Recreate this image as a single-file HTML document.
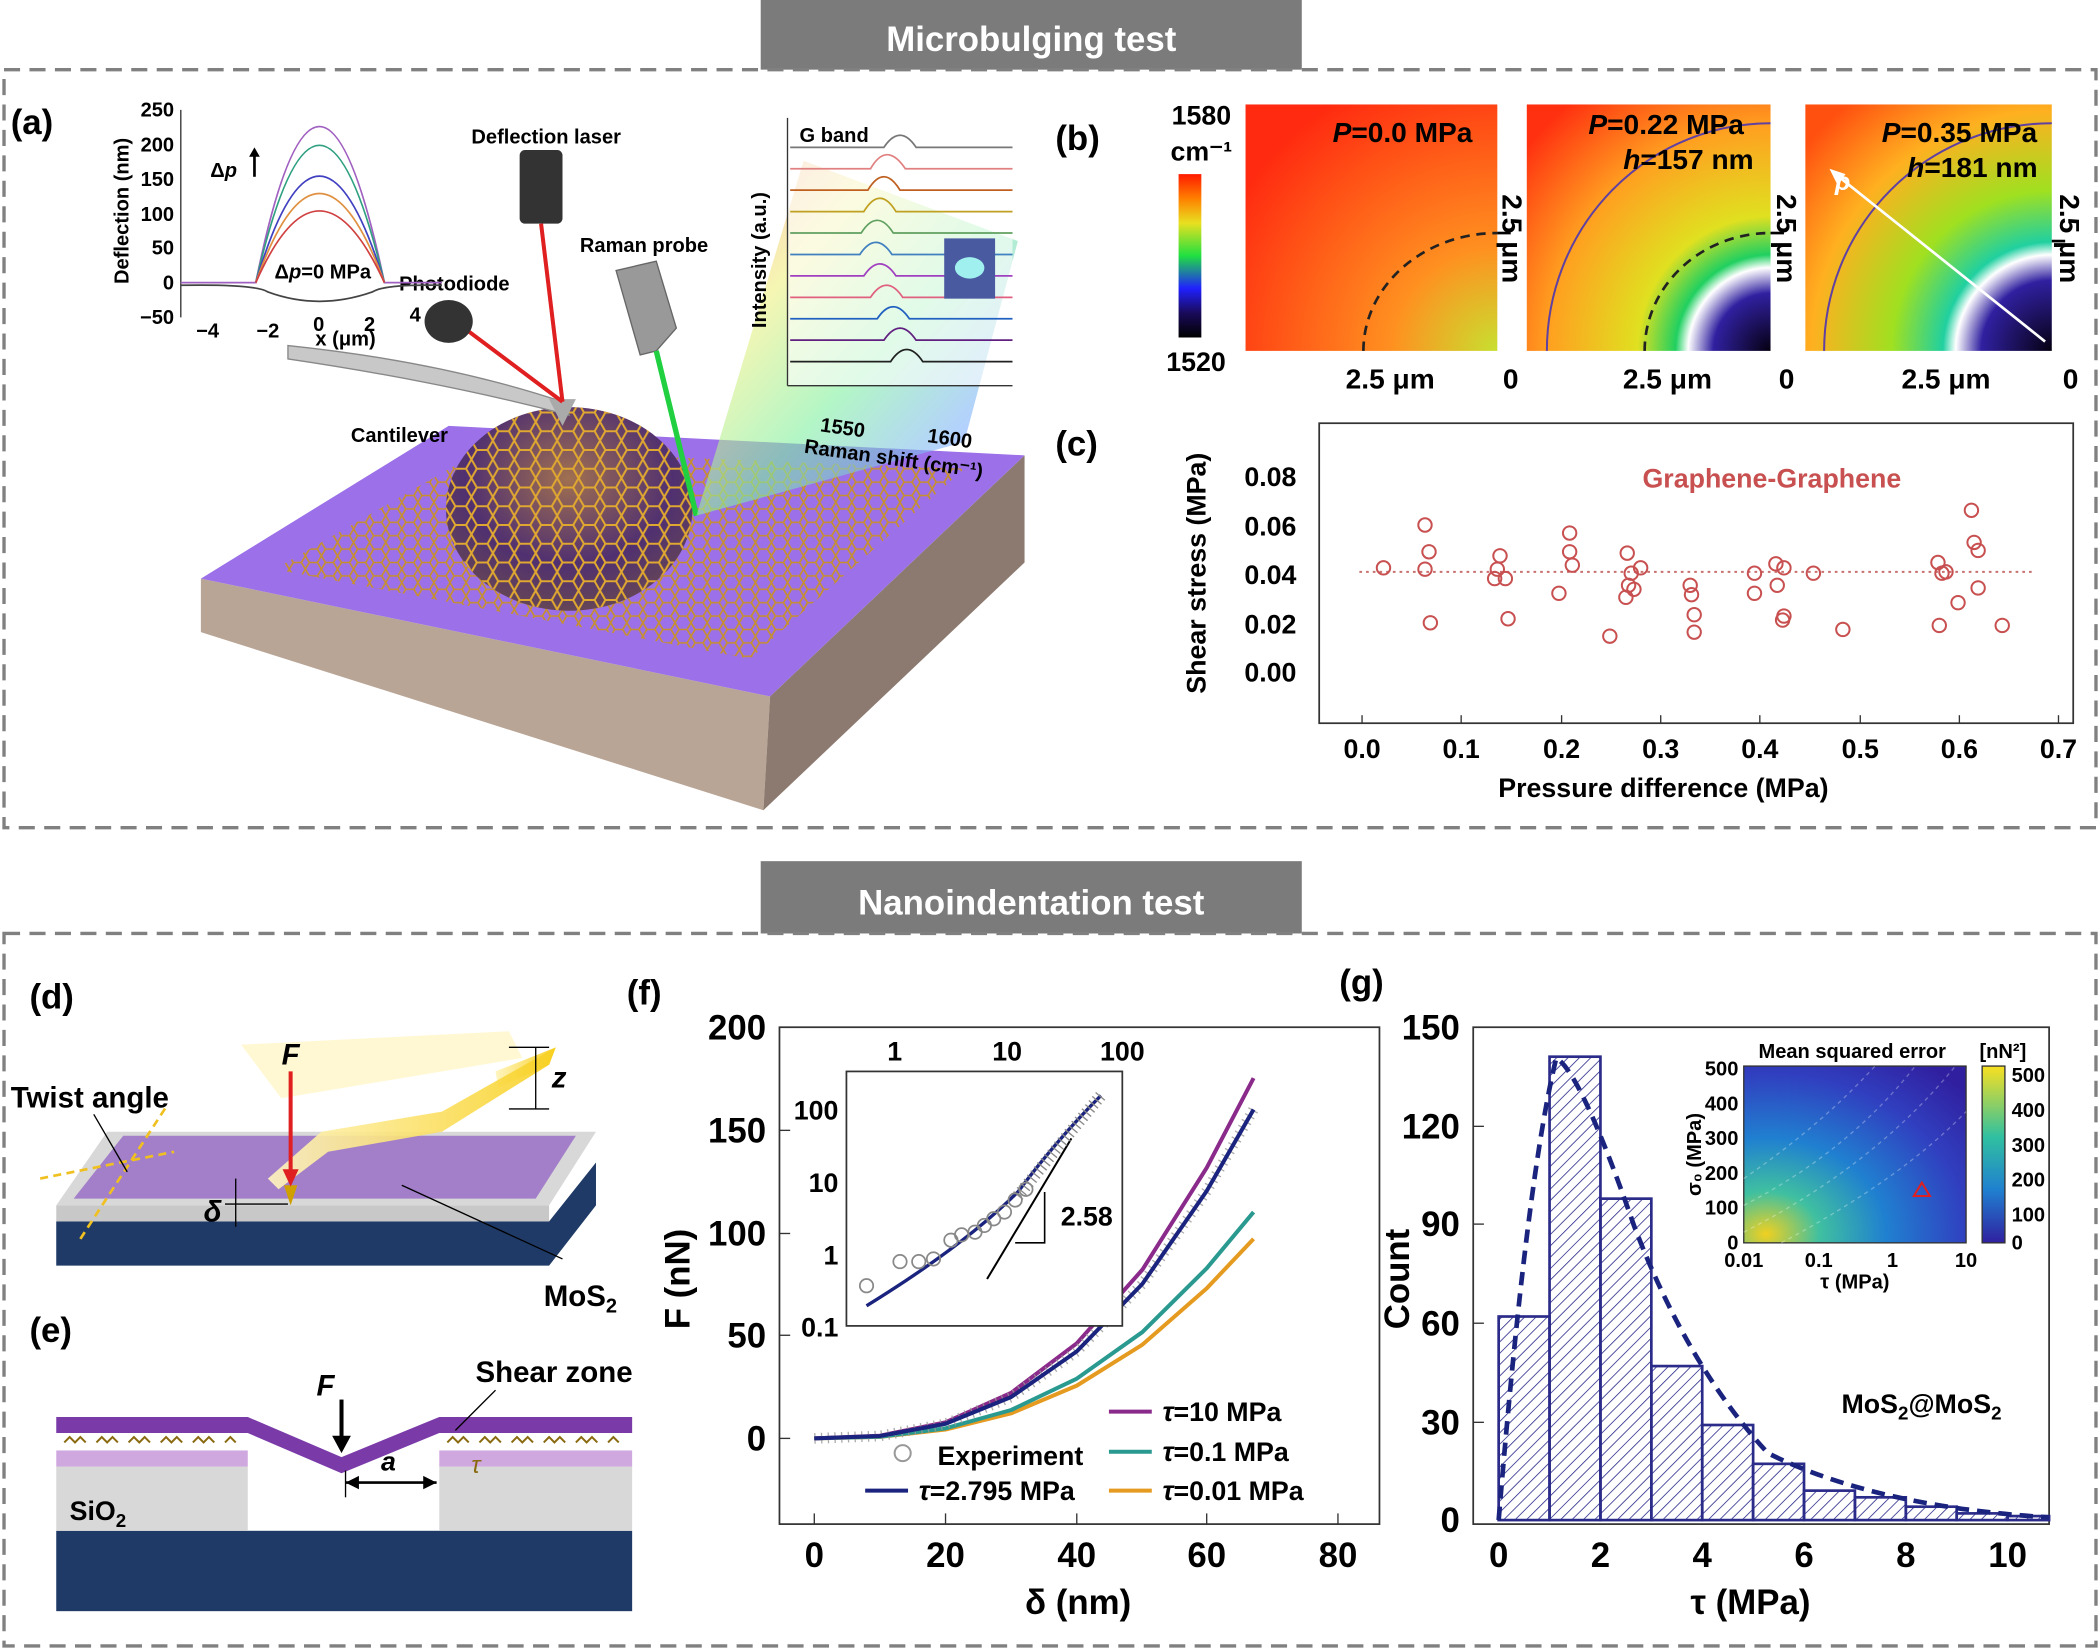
<!DOCTYPE html>
<html><head><meta charset="utf-8"><style>
html,body{margin:0;padding:0;background:#fff}
svg{display:block}
text{font-family:"Liberation Sans",Arial,sans-serif}
</style></head><body>
<svg width="2100" height="1650" viewBox="0 0 1568 1232" preserveAspectRatio="none" xmlns="http://www.w3.org/2000/svg">
<defs>
<linearGradient id="cb" x1="0" y1="1" x2="0" y2="0">
<stop offset="0" stop-color="#000"/><stop offset="0.15" stop-color="#1a0a5a"/><stop offset="0.3" stop-color="#2020ff"/><stop offset="0.5" stop-color="#20e040"/><stop offset="0.7" stop-color="#e8e020"/><stop offset="0.85" stop-color="#ff8000"/><stop offset="1" stop-color="#ff1a00"/></linearGradient>
<radialGradient id="h1" cx="1" cy="1" r="1.2"><stop offset="0" stop-color="#c8e030"/><stop offset="0.35" stop-color="#ff9020"/><stop offset="1" stop-color="#ff2a10"/></radialGradient>
<radialGradient id="h2" cx="1" cy="1" r="1.3"><stop offset="0" stop-color="#050010"/><stop offset="0.18" stop-color="#3020a0"/><stop offset="0.26" stop-color="#fff"/><stop offset="0.3" stop-color="#20d060"/><stop offset="0.42" stop-color="#e0e020"/><stop offset="0.7" stop-color="#ffa020"/><stop offset="1" stop-color="#ff3010"/></radialGradient>
<radialGradient id="h3" cx="1" cy="1" r="1.3"><stop offset="0" stop-color="#050010"/><stop offset="0.22" stop-color="#3020a0"/><stop offset="0.3" stop-color="#fff"/><stop offset="0.34" stop-color="#20d0a0"/><stop offset="0.5" stop-color="#a0e020"/><stop offset="0.75" stop-color="#ffb020"/><stop offset="1" stop-color="#ff5010"/></radialGradient>
<linearGradient id="rb" x1="0" y1="0" x2="1" y2="1"><stop offset="0" stop-color="#ff8080" stop-opacity=".6"/><stop offset="0.3" stop-color="#f0f080" stop-opacity=".6"/><stop offset="0.55" stop-color="#80f0a0" stop-opacity=".6"/><stop offset="0.8" stop-color="#80b0ff" stop-opacity=".6"/><stop offset="1" stop-color="#d080ff" stop-opacity=".6"/></linearGradient>
<radialGradient id="mse" cx="0.1" cy="0.95" r="1.2"><stop offset="0" stop-color="#f0d020"/><stop offset="0.2" stop-color="#40c0a0"/><stop offset="0.45" stop-color="#2080d0"/><stop offset="0.75" stop-color="#3040c0"/><stop offset="1" stop-color="#3020a0"/></radialGradient>
<linearGradient id="mcb" x1="0" y1="1" x2="0" y2="0"><stop offset="0" stop-color="#3020a0"/><stop offset=".3" stop-color="#2080d0"/><stop offset=".6" stop-color="#30c0a0"/><stop offset="1" stop-color="#f8e020"/></linearGradient>
<pattern id="hatch" width="6" height="6" patternUnits="userSpaceOnUse" patternTransform="rotate(45)"><line x1="0" y1="0" x2="0" y2="6" stroke="#2b2b8a" stroke-width="1.2"/></pattern>
<pattern id="hex" width="12" height="10" patternUnits="userSpaceOnUse"><path d="M0 5 L3 0 L9 0 L12 5 L9 10 L3 10 Z" fill="none" stroke="#c8902a" stroke-width="1.2"/></pattern>
<pattern id="hex2" width="16" height="14" patternUnits="userSpaceOnUse"><path d="M0 7 L4 0 L12 0 L16 7 L12 14 L4 14 Z" fill="none" stroke="#e0a830" stroke-width="1.5"/></pattern>
<radialGradient id="dome" cx="0.5" cy="0.35" r="0.7"><stop offset="0" stop-color="#a07050"/><stop offset="0.6" stop-color="#503070"/><stop offset="1" stop-color="#6a4a50"/></radialGradient>
<linearGradient id="beam" x1="0" y1="0" x2="1" y2="0"><stop offset="0" stop-color="#fff5c0"/><stop offset="1" stop-color="#f8d020"/></linearGradient>
</defs>

<!-- banners & frames -->
<rect x="568" y="0" width="404" height="52" fill="#7b7b7b"/>
<text x="770" y="38" font-size="26" font-weight="bold" fill="#fff" text-anchor="middle">Microbulging test</text>
<rect x="3" y="52" width="1562" height="566" fill="none" stroke="#808080" stroke-width="2.5" stroke-dasharray="12,7"/>
<rect x="568" y="643" width="404" height="54" fill="#7b7b7b"/>
<text x="770" y="683" font-size="26" font-weight="bold" fill="#fff" text-anchor="middle">Nanoindentation test</text>
<rect x="3" y="697" width="1562" height="532" fill="none" stroke="#808080" stroke-width="2.5" stroke-dasharray="12,7"/>

<!-- (a) -->
<text x="8" y="100" font-size="26" font-weight="bold">(a)</text>
<polygon points="150,432 150,472 570,605 575,520" fill="#b9a596"/>
<polygon points="575,520 570,605 765,420 765,340" fill="#8c7a70"/>
<polygon points="150,432 335,318 765,340 575,520" fill="#9b70e8"/>
<polygon points="205,425 360,336 720,350 560,492" fill="url(#hex)"/>
<ellipse cx="425" cy="380" rx="92" ry="76" fill="url(#dome)"/>
<ellipse cx="425" cy="380" rx="92" ry="76" fill="url(#hex2)"/>
<!-- cantilever -->
<path d="M215 258 Q330 270 420 300 L425 310 Q330 285 215 268 Z" fill="#c8c8c8" stroke="#888"/>
<polygon points="410,298 430,298 420,318" fill="#aaa"/>
<!-- laser -->
<rect x="388" y="112" width="32" height="55" rx="4" fill="#333"/>
<line x1="404" y1="167" x2="420" y2="300" stroke="#e02020" stroke-width="3"/>
<line x1="420" y1="300" x2="340" y2="240" stroke="#e02020" stroke-width="3"/>
<ellipse cx="335" cy="240" rx="18" ry="16" fill="#333"/>
<text x="352" y="107" font-size="15" font-weight="bold">Deflection laser</text>
<text x="298" y="217" font-size="15" font-weight="bold">Photodiode</text>
<text x="433" y="188" font-size="15" font-weight="bold">Raman probe</text>
<text x="262" y="330" font-size="15" font-weight="bold">Cantilever</text>
<!-- raman probe -->
<path d="M460 202 L490 195 L505 245 L490 262 L478 265 Z" fill="#999" stroke="#666"/>
<line x1="490" y1="262" x2="520" y2="385" stroke="#20d040" stroke-width="4"/>
<polygon points="520,385 600,120 760,180 720,330" fill="url(#rb)"/>
<!-- raman inset -->
<rect x="588" y="88" width="168" height="200" fill="#fff" fill-opacity=".6"/>
<g fill="none" stroke-width="1.3">
<path d="M590 110 L660 110 Q672 92 684 110 L756 110" stroke="#777"/>
<path d="M590 126 L650 126 Q662 105 676 126 L756 126" stroke="#e08080"/>
<path d="M590 142 L648 142 Q660 122 672 142 L756 142" stroke="#c06020"/>
<path d="M590 158 L645 158 Q657 138 669 158 L756 158" stroke="#c0a020"/>
<path d="M590 174 L643 174 Q655 155 667 174 L756 174" stroke="#60a060"/>
<path d="M590 190 L642 190 Q654 172 666 190 L756 190" stroke="#4080c0"/>
<path d="M590 206 L645 206 Q657 188 669 206 L756 206" stroke="#a040c0"/>
<path d="M590 222 L650 222 Q662 204 674 222 L756 222" stroke="#e06080"/>
<path d="M590 238 L655 238 Q667 220 679 238 L756 238" stroke="#2060c0"/>
<path d="M590 254 L660 254 Q672 236 684 254 L756 254" stroke="#602080"/>
<path d="M590 270 L665 270 Q677 252 689 270 L756 270" stroke="#202020"/>
</g>
<line x1="588" y1="88" x2="588" y2="288" stroke="#333"/>
<line x1="588" y1="288" x2="756" y2="288" stroke="#333"/>
<rect x="705" y="178" width="38" height="45" fill="#4a5aa0"/><ellipse cx="724" cy="200" rx="11" ry="8" fill="#a0f0f0"/>
<text x="597" y="106" font-size="15" font-weight="bold">G band</text>
<text x="612" y="322" font-size="15" font-weight="bold" transform="rotate(8 612 322)">1550</text>
<text x="692" y="330" font-size="15" font-weight="bold" transform="rotate(8 692 330)">1600</text>
<text x="600" y="338" font-size="15" font-weight="bold" transform="rotate(8 600 338)">Raman shift (cm⁻¹)</text>
<text x="572" y="245" font-size="15" font-weight="bold" transform="rotate(-90 572 245)">Intensity (a.u.)</text>
<!-- deflection inset -->
<g font-size="15" font-weight="bold">
<line x1="135" y1="82" x2="135" y2="237" stroke="#333"/>
<text x="130" y="87" text-anchor="end">250</text><text x="130" y="113" text-anchor="end">200</text>
<text x="130" y="139" text-anchor="end">150</text><text x="130" y="165" text-anchor="end">100</text>
<text x="130" y="190" text-anchor="end">50</text><text x="130" y="216" text-anchor="end">0</text>
<text x="130" y="242" text-anchor="end">−50</text>
<text x="155" y="252" text-anchor="middle">−4</text><text x="200" y="252" text-anchor="middle">−2</text>
<text x="238" y="247" text-anchor="middle">0</text><text x="276" y="247" text-anchor="middle">2</text>
<text x="310" y="240" text-anchor="middle">4</text>
<text x="258" y="258" text-anchor="middle">x (μm)</text>
<text x="96" y="212" transform="rotate(-90 96 212)">Deflection (nm)</text>
<text x="157" y="132">Δ<tspan font-style="italic">p</tspan></text>
<text x="205" y="208">Δ<tspan font-style="italic">p</tspan>=0 MPa</text>
</g>
<line x1="190" y1="132" x2="190" y2="115" stroke="#000" stroke-width="2"/><polygon points="186,117 194,117 190,110"/>
<g fill="none" stroke-width="1.3">
<path d="M135 211 L191 211 Q238 -22 287 211 L330 211" stroke="#a060c0"/>
<path d="M191 211 Q238 6 287 211" stroke="#30a080"/>
<path d="M191 211 Q238 52 287 211" stroke="#4040c0"/>
<path d="M191 211 Q238 78 287 211" stroke="#e09040"/>
<path d="M191 211 Q238 104 287 211" stroke="#d04040"/>
<path d="M135 213 Q191 212 200 218 Q238 232 278 218 Q287 212 330 213" stroke="#444"/>
</g>

<!-- (b) -->
<text x="788" y="112" font-size="26" font-weight="bold">(b)</text>
<text x="897" y="93" font-size="20" font-weight="bold" text-anchor="middle">1580</text>
<text x="897" y="120" font-size="20" font-weight="bold" text-anchor="middle">cm⁻¹</text>
<rect x="880" y="130" width="17" height="122" fill="url(#cb)"/>
<text x="893" y="277" font-size="20" font-weight="bold" text-anchor="middle">1520</text>
<rect x="930" y="78" width="188" height="184" fill="url(#h1)"/>
<rect x="1140" y="78" width="182" height="184" fill="url(#h2)"/>
<rect x="1348" y="78" width="184" height="184" fill="url(#h3)"/>
<path d="M1018 262 A100 88 0 0 1 1118 174" fill="none" stroke="#222" stroke-width="2" stroke-dasharray="7,5"/>
<path d="M1228 262 A94 88 0 0 1 1322 174" fill="none" stroke="#222" stroke-width="2" stroke-dasharray="7,5"/>
<path d="M1155 262 A167 170 0 0 1 1322 92" fill="none" stroke="#6040a0" stroke-width="1.5"/>
<path d="M1362 262 A170 170 0 0 1 1532 92" fill="none" stroke="#6040a0" stroke-width="1.5"/>
<line x1="1368" y1="128" x2="1527" y2="255" stroke="#fff" stroke-width="2"/>
<polygon points="1366,126 1378,130 1372,138" fill="#fff"/>
<text x="1370" y="142" font-size="19" font-weight="bold" font-style="italic" fill="#fff">ρ</text>
<g font-size="21" font-weight="bold">
<text x="995" y="106"><tspan font-style="italic">P</tspan>=0.0 MPa</text>
<text x="1186" y="100"><tspan font-style="italic">P</tspan>=0.22 MPa</text>
<text x="1212" y="126"><tspan font-style="italic">h</tspan>=157 nm</text>
<text x="1405" y="106"><tspan font-style="italic">P</tspan>=0.35 MPa</text>
<text x="1424" y="132"><tspan font-style="italic">h</tspan>=181 nm</text>
<text x="1038" y="290" text-anchor="middle">2.5 μm</text><text x="1128" y="290" text-anchor="middle">0</text>
<text x="1245" y="290" text-anchor="middle">2.5 μm</text><text x="1334" y="290" text-anchor="middle">0</text>
<text x="1453" y="290" text-anchor="middle">2.5 μm</text><text x="1546" y="290" text-anchor="middle">0</text>
<text x="1122" y="145" transform="rotate(90 1122 145)">2.5 μm</text>
<text x="1327" y="145" transform="rotate(90 1327 145)">2.5 μm</text>
<text x="1538" y="145" transform="rotate(90 1538 145)">2.5 μm</text>
</g>
<line x1="1118" y1="174" x2="1128" y2="174" stroke="#000" stroke-width="2"/>
<line x1="1322" y1="174" x2="1332" y2="174" stroke="#000" stroke-width="2"/>
<line x1="1532" y1="180" x2="1542" y2="180" stroke="#000" stroke-width="2"/>

<!-- (c) -->
<text x="788" y="340" font-size="26" font-weight="bold">(c)</text>
<rect x="985" y="316" width="563" height="224" fill="none" stroke="#333" stroke-width="1.3"/>
<g font-size="20" font-weight="bold">
<text x="968" y="363" text-anchor="end">0.08</text><text x="968" y="400" text-anchor="end">0.06</text>
<text x="968" y="436" text-anchor="end">0.04</text><text x="968" y="473" text-anchor="end">0.02</text>
<text x="968" y="509" text-anchor="end">0.00</text>
<text x="1017" y="566" text-anchor="middle">0.0</text><text x="1091" y="566" text-anchor="middle">0.1</text>
<text x="1166" y="566" text-anchor="middle">0.2</text><text x="1240" y="566" text-anchor="middle">0.3</text>
<text x="1314" y="566" text-anchor="middle">0.4</text><text x="1389" y="566" text-anchor="middle">0.5</text>
<text x="1463" y="566" text-anchor="middle">0.6</text><text x="1537" y="566" text-anchor="middle">0.7</text>
<text x="1242" y="595" text-anchor="middle">Pressure difference (MPa)</text>
<text x="900" y="428" text-anchor="middle" transform="rotate(-90 900 428)">Shear stress (MPa)</text>
<text x="1323" y="364" text-anchor="middle" fill="#c85050">Graphene-Graphene</text>
</g>
<g stroke="#333"><line x1="1017" y1="540" x2="1017" y2="534"/><line x1="1091" y1="540" x2="1091" y2="534"/><line x1="1166" y1="540" x2="1166" y2="534"/><line x1="1240" y1="540" x2="1240" y2="534"/><line x1="1314" y1="540" x2="1314" y2="534"/><line x1="1389" y1="540" x2="1389" y2="534"/><line x1="1463" y1="540" x2="1463" y2="534"/><line x1="1537" y1="540" x2="1537" y2="534"/></g>
<line x1="1015" y1="427" x2="1520" y2="427" stroke="#c87070" stroke-width="1.5" stroke-dasharray="2,3"/>
<g fill="none" stroke="#c85050" stroke-width="1.5">
<circle cx="1033" cy="424" r="5"/><circle cx="1064" cy="392" r="5"/><circle cx="1067" cy="412" r="5"/><circle cx="1064" cy="425" r="5"/><circle cx="1068" cy="465" r="5"/>
<circle cx="1120" cy="415" r="5"/><circle cx="1118" cy="425" r="5"/><circle cx="1124" cy="432" r="5"/><circle cx="1126" cy="462" r="5"/><circle cx="1116" cy="432" r="5"/>
<circle cx="1172" cy="398" r="5"/><circle cx="1172" cy="412" r="5"/><circle cx="1174" cy="422" r="5"/><circle cx="1164" cy="443" r="5"/>
<circle cx="1215" cy="413" r="5"/><circle cx="1218" cy="428" r="5"/><circle cx="1216" cy="437" r="5"/><circle cx="1220" cy="440" r="5"/><circle cx="1214" cy="446" r="5"/><circle cx="1202" cy="475" r="5"/><circle cx="1225" cy="424" r="5"/>
<circle cx="1262" cy="437" r="5"/><circle cx="1263" cy="444" r="5"/><circle cx="1265" cy="459" r="5"/><circle cx="1265" cy="472" r="5"/>
<circle cx="1310" cy="428" r="5"/><circle cx="1310" cy="443" r="5"/><circle cx="1326" cy="421" r="5"/><circle cx="1327" cy="437" r="5"/><circle cx="1332" cy="424" r="5"/><circle cx="1332" cy="460" r="5"/><circle cx="1331" cy="463" r="5"/>
<circle cx="1354" cy="428" r="5"/><circle cx="1376" cy="470" r="5"/>
<circle cx="1447" cy="420" r="5"/><circle cx="1450" cy="428" r="5"/><circle cx="1453" cy="427" r="5"/><circle cx="1448" cy="467" r="5"/><circle cx="1462" cy="450" r="5"/>
<circle cx="1472" cy="381" r="5"/><circle cx="1474" cy="405" r="5"/><circle cx="1477" cy="411" r="5"/><circle cx="1477" cy="439" r="5"/><circle cx="1495" cy="467" r="5"/>
</g>

<!-- (d) -->
<text x="22" y="753" font-size="26" font-weight="bold">(d)</text>
<polygon points="42,912 42,945 410,945 445,900 445,868 410,912" fill="#1f3a66"/>
<polygon points="42,900 80,845 445,845 410,900" fill="#d8d8d8"/>
<polygon points="42,900 410,900 410,912 42,912" fill="#c8c8c8"/>
<polygon points="55,895 92,848 430,848 400,895" fill="#9a70c8" opacity=".85"/>
<polygon points="370,800 415,782 410,795 372,812" fill="url(#beam)"/>
<path d="M200 880 L240 845 L330 830 L415 782 L410 795 L330 845 L245 860 L208 888 Z" fill="url(#beam)" opacity=".9"/>
<path d="M180 780 L380 770 L390 790 L210 820 Z" fill="#fff5c0" opacity=".7"/>
<polygon points="212,885 222,885 217,900" fill="#d0a000"/>
<line x1="217" y1="800" x2="217" y2="878" stroke="#e02020" stroke-width="3"/>
<polygon points="211,873 223,873 217,886" fill="#e02020"/>
<text x="217" y="795" font-size="22" font-weight="bold" font-style="italic" text-anchor="middle">F</text>
<text x="8" y="827" font-size="22" font-weight="bold">Twist angle</text>
<line x1="60" y1="925" x2="125" y2="825" stroke="#f0c020" stroke-width="2" stroke-dasharray="6,4"/>
<line x1="30" y1="880" x2="130" y2="860" stroke="#f0c020" stroke-width="2" stroke-dasharray="6,4"/>
<line x1="70" y1="832" x2="95" y2="875" stroke="#000"/>
<text x="152" y="912" font-size="22" font-weight="bold" font-style="italic">δ</text>
<line x1="176" y1="880" x2="176" y2="916" stroke="#000"/>
<line x1="168" y1="899" x2="215" y2="899" stroke="#000"/>
<line x1="380" y1="782" x2="410" y2="782" stroke="#000"/><line x1="380" y1="828" x2="410" y2="828" stroke="#000"/>
<line x1="400" y1="782" x2="400" y2="828" stroke="#000"/>
<text x="412" y="812" font-size="22" font-weight="bold" font-style="italic">z</text>
<line x1="300" y1="885" x2="420" y2="940" stroke="#000"/>
<text x="406" y="975" font-size="22" font-weight="bold">MoS<tspan font-size="15" dy="5">2</tspan></text>

<!-- (e) -->
<text x="22" y="1002" font-size="26" font-weight="bold">(e)</text>
<rect x="42" y="1143" width="430" height="60" fill="#1f3a66"/>
<rect x="42" y="1095" width="143" height="48" fill="#d8d8d8"/>
<rect x="328" y="1095" width="144" height="48" fill="#d8d8d8"/>
<rect x="42" y="1083" width="143" height="12" fill="#d0a8e0"/>
<rect x="328" y="1083" width="144" height="12" fill="#d0a8e0"/>
<path d="M42 1058 L185 1058 L255 1088 L328 1058 L472 1058 L472 1070 L328 1070 L255 1100 L185 1070 L42 1070 Z" fill="#7a3aa8"/>
<g stroke="#8a6a10" stroke-width="1.5" fill="none">
<path d="M48 1077 l4 -4 l4 4 l4 -4 l4 4 M72 1077 l4 -4 l4 4 l4 -4 l4 4 M96 1077 l4 -4 l4 4 l4 -4 l4 4 M120 1077 l4 -4 l4 4 l4 -4 l4 4 M144 1077 l4 -4 l4 4 l4 -4 l4 4 M168 1077 l4 -4 l4 4"/>
<path d="M334 1077 l4 -4 l4 4 l4 -4 l4 4 M358 1077 l4 -4 l4 4 l4 -4 l4 4 M382 1077 l4 -4 l4 4 l4 -4 l4 4 M406 1077 l4 -4 l4 4 l4 -4 l4 4 M430 1077 l4 -4 l4 4 l4 -4 l4 4 M454 1077 l4 -4 l4 4"/>
</g>
<line x1="255" y1="1045" x2="255" y2="1075" stroke="#000" stroke-width="3"/>
<polygon points="248,1072 262,1072 255,1085"/>
<text x="243" y="1042" font-size="22" font-weight="bold" font-style="italic" text-anchor="middle">F</text>
<line x1="258" y1="1107" x2="326" y2="1107" stroke="#000" stroke-width="2"/>
<polygon points="258,1107 268,1102 268,1112"/><polygon points="326,1107 316,1102 316,1112"/>
<line x1="258" y1="1098" x2="258" y2="1118" stroke="#000"/>
<text x="290" y="1098" font-size="20" font-weight="bold" font-style="italic" text-anchor="middle">a</text>
<text x="352" y="1100" font-size="18" font-style="italic" fill="#8a6a10">τ</text>
<text x="355" y="1032" font-size="22" font-weight="bold">Shear zone</text>
<line x1="370" y1="1038" x2="340" y2="1068" stroke="#000"/>
<text x="52" y="1135" font-size="20" font-weight="bold">SiO<tspan font-size="14" dy="5">2</tspan></text>

<!-- (f) -->
<text x="468" y="750" font-size="26" font-weight="bold">(f)</text>
<rect x="582" y="767" width="448" height="371" fill="none" stroke="#333" stroke-width="1.3"/>
<g font-size="26" font-weight="bold">
<text x="572" y="776" text-anchor="end">200</text><text x="572" y="853" text-anchor="end">150</text>
<text x="572" y="930" text-anchor="end">100</text><text x="572" y="1006" text-anchor="end">50</text>
<text x="572" y="1083" text-anchor="end">0</text>
<text x="608" y="1170" text-anchor="middle">0</text><text x="706" y="1170" text-anchor="middle">20</text>
<text x="804" y="1170" text-anchor="middle">40</text><text x="901" y="1170" text-anchor="middle">60</text>
<text x="999" y="1170" text-anchor="middle">80</text>
<text x="805" y="1205" text-anchor="middle">δ (nm)</text>
<text x="515" y="955" text-anchor="middle" transform="rotate(-90 515 955)">F (nN)</text>
</g>
<g stroke="#333"><line x1="582" y1="767" x2="590" y2="767"/><line x1="582" y1="844" x2="590" y2="844"/><line x1="582" y1="921" x2="590" y2="921"/><line x1="582" y1="997" x2="590" y2="997"/><line x1="582" y1="1074" x2="590" y2="1074"/>
<line x1="608" y1="1138" x2="608" y2="1130"/><line x1="706" y1="1138" x2="706" y2="1130"/><line x1="804" y1="1138" x2="804" y2="1130"/><line x1="901" y1="1138" x2="901" y2="1130"/><line x1="999" y1="1138" x2="999" y2="1130"/></g>
<g fill="none" stroke-width="3" stroke-linejoin="round">
<polyline points="608,1074 657,1072.9 706,1067.4 755,1055.3 804,1034.6 853,1004 901,962 936,925" stroke="#e59a20"/>
<polyline points="608,1074 657,1072.8 706,1066.5 755,1052.8 804,1029.4 853,994.6 901,947 936,905" stroke="#2a9a90"/>
<polyline points="608,1074 657,1072 706,1062 755,1040 804,1003 853,948 901,872 936,805" stroke="#8a2a8a"/>
<polyline points="608,1074 657,1072.2 706,1063.1 755,1043.1 804,1009 853,958.6 901,889.3 936,828.4" stroke="#999" stroke-width="8" stroke-dasharray="1,4" opacity=".8"/>
<polyline points="608,1074 657,1072.2 706,1063.1 755,1043.1 804,1009 853,958.6 901,889.3 936,828.4" stroke="#1a237e"/>
</g>
<g font-size="20" font-weight="bold">
<line x1="828" y1="1054" x2="860" y2="1054" stroke="#8a2a8a" stroke-width="3"/><text x="868" y="1061" font-style="italic">τ<tspan font-style="normal">=10 MPa</tspan></text>
<line x1="828" y1="1084" x2="860" y2="1084" stroke="#2a9a90" stroke-width="3"/><text x="868" y="1091" font-style="italic">τ<tspan font-style="normal">=0.1 MPa</tspan></text>
<line x1="828" y1="1113" x2="860" y2="1113" stroke="#e59a20" stroke-width="3"/><text x="868" y="1120" font-style="italic">τ<tspan font-style="normal">=0.01 MPa</tspan></text>
<circle cx="674" cy="1085" r="6" fill="none" stroke="#999" stroke-width="1.5"/><text x="700" y="1094">Experiment</text>
<line x1="646" y1="1113" x2="678" y2="1113" stroke="#1a237e" stroke-width="3"/><text x="686" y="1120" font-style="italic">τ<tspan font-style="normal">=2.795 MPa</tspan></text>
</g>
<!-- f inset -->
<rect x="632" y="800" width="206" height="190" fill="#fff" stroke="#333" stroke-width="1.3"/>
<g font-size="20" font-weight="bold">
<text x="668" y="792" text-anchor="middle">1</text><text x="752" y="792" text-anchor="middle">10</text><text x="838" y="792" text-anchor="middle">100</text>
<text x="626" y="836" text-anchor="end">100</text><text x="626" y="890" text-anchor="end">10</text>
<text x="626" y="944" text-anchor="end">1</text><text x="626" y="998" text-anchor="end">0.1</text>
<text x="792" y="915">2.58</text>
</g>
<path d="M647 975 Q720 930 760 890 Q790 850 822 818" fill="none" stroke="#1a237e" stroke-width="2.5"/>
<path d="M737 955 L800 850" stroke="#000" stroke-width="1.5"/>
<path d="M758 928 L780 928 L780 890" fill="none" stroke="#000" stroke-width="1.2"/>
<g fill="none" stroke="#888" stroke-width="1.3">
<circle cx="647" cy="960" r="5"/><circle cx="672" cy="942" r="5"/><circle cx="686" cy="942" r="5"/><circle cx="697" cy="940" r="5"/><circle cx="710" cy="926" r="5"/><circle cx="718" cy="922" r="5"/><circle cx="728" cy="920" r="5"/><circle cx="735" cy="915" r="5"/><circle cx="742" cy="910" r="5"/><circle cx="750" cy="905" r="5"/><circle cx="758" cy="896" r="5"/><circle cx="766" cy="888" r="5"/>
</g>
<path d="M760 893 Q795 850 822 818" fill="none" stroke="#888" stroke-width="9" stroke-dasharray="1,3"/>

<!-- (g) -->
<text x="1000" y="742" font-size="26" font-weight="bold">(g)</text>
<rect x="1100" y="767" width="430" height="371" fill="none" stroke="#333" stroke-width="1.3"/>
<g stroke="#2b2b8a" stroke-width="2" fill="url(#hatch)">
<rect x="1119" y="983" width="38" height="152"/>
<rect x="1157" y="789" width="38" height="346"/>
<rect x="1195" y="895" width="38" height="240"/>
<rect x="1233" y="1020" width="38" height="115"/>
<rect x="1271" y="1064" width="38" height="71"/>
<rect x="1309" y="1093" width="38" height="42"/>
<rect x="1347" y="1113" width="38" height="22"/>
<rect x="1385" y="1118" width="38" height="17"/>
<rect x="1423" y="1125" width="38" height="10"/>
<rect x="1461" y="1130" width="38" height="5"/>
<rect x="1499" y="1132" width="31" height="3"/>
</g>
<path d="M1119 1135 Q1140 880 1162 790 Q1180 800 1220 915 Q1260 1020 1320 1085 Q1400 1125 1530 1133" fill="none" stroke="#1a237e" stroke-width="3.5" stroke-dasharray="10,6"/>
<g stroke="#333"><line x1="1100" y1="767" x2="1108" y2="767"/><line x1="1100" y1="841" x2="1108" y2="841"/><line x1="1100" y1="914" x2="1108" y2="914"/><line x1="1100" y1="988" x2="1108" y2="988"/><line x1="1100" y1="1062" x2="1108" y2="1062"/></g>
<g font-size="26" font-weight="bold">
<text x="1090" y="776" text-anchor="end">150</text><text x="1090" y="850" text-anchor="end">120</text>
<text x="1090" y="923" text-anchor="end">90</text><text x="1090" y="997" text-anchor="end">60</text>
<text x="1090" y="1071" text-anchor="end">30</text><text x="1090" y="1144" text-anchor="end">0</text>
<text x="1119" y="1170" text-anchor="middle">0</text><text x="1195" y="1170" text-anchor="middle">2</text>
<text x="1271" y="1170" text-anchor="middle">4</text><text x="1347" y="1170" text-anchor="middle">6</text>
<text x="1423" y="1170" text-anchor="middle">8</text><text x="1499" y="1170" text-anchor="middle">10</text>
<text x="1307" y="1205" text-anchor="middle">τ (MPa)</text>
<text x="1052" y="955" text-anchor="middle" transform="rotate(-90 1052 955)">Count</text>
</g>
<text x="1375" y="1055" font-size="20" font-weight="bold">MoS<tspan font-size="14" dy="5">2</tspan><tspan dy="-5">@MoS</tspan><tspan font-size="14" dy="5">2</tspan></text>
<rect x="1302" y="796" width="166" height="132" fill="url(#mse)" stroke="#333"/>
<path d="M1302 880 Q1360 840 1400 796 M1302 900 Q1380 860 1430 796 M1302 920 Q1400 870 1460 796 M1330 928 Q1420 880 1468 830" fill="none" stroke="#fff" stroke-opacity=".3" stroke-dasharray="3,3"/>
<polygon points="1435,883 1441,893 1429,893" fill="none" stroke="#e02020" stroke-width="1.5"/>
<rect x="1480" y="796" width="17" height="132" fill="url(#mcb)" stroke="#333"/>
<g font-size="15" font-weight="bold">
<text x="1383" y="790" text-anchor="middle">Mean squared error</text>
<text x="1478" y="790">[nN²]</text>
<text x="1298" y="803" text-anchor="end">500</text><text x="1298" y="829" text-anchor="end">400</text>
<text x="1298" y="855" text-anchor="end">300</text><text x="1298" y="881" text-anchor="end">200</text>
<text x="1298" y="907" text-anchor="end">100</text><text x="1298" y="933" text-anchor="end">0</text>
<text x="1302" y="946" text-anchor="middle">0.01</text><text x="1358" y="946" text-anchor="middle">0.1</text>
<text x="1413" y="946" text-anchor="middle">1</text><text x="1468" y="946" text-anchor="middle">10</text>
<text x="1385" y="962" text-anchor="middle">τ (MPa)</text>
<text x="1270" y="862" text-anchor="middle" transform="rotate(-90 1270 862)">σ₀ (MPa)</text>
<text x="1502" y="808">500</text><text x="1502" y="834">400</text><text x="1502" y="860">300</text>
<text x="1502" y="886">200</text><text x="1502" y="912">100</text><text x="1502" y="933">0</text>
</g>
</svg>
</body></html>
